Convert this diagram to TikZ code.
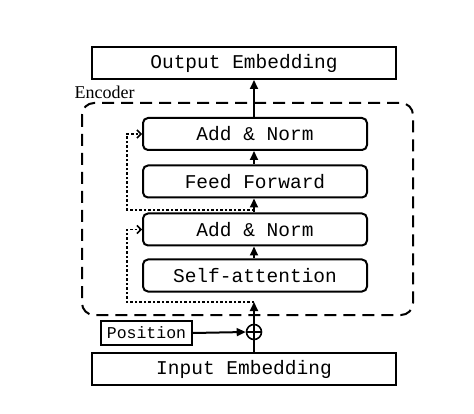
\documentclass[tikz,border=0pt]{standalone}
\usepackage{fontspec}
\setmainfont{Liberation Serif}
\setmonofont{Liberation Mono}
\usetikzlibrary{arrows.meta,positioning,calc}

\tikzset{
  embbox/.style={draw, rectangle, line width=2pt, minimum width=304pt, minimum height=32pt, inner sep=0pt},
  layerbox/.style={draw, rectangle, rounded corners=5pt, line width=2pt, minimum width=224pt, minimum height=32pt, inner sep=0pt},
  flow/.style={-{Triangle[length=9pt,width=8pt]}, line width=2pt},
  skip/.style={-{Straight Barb[length=4pt,width=8pt]}, line width=1.5pt, dash pattern=on 2.5pt off 2pt}
}

\begin{document}
\begin{tikzpicture}[x=1pt, y=-1pt, font=\ttfamily\fontsize{19.5}{22}\selectfont]
    \useasboundingbox (0,0) rectangle (474,414);

    % Embeddings
    \node[embbox] (output) at (244,63) {Output Embedding};
    \node[embbox] (input) at (244,369) {Input Embedding};

    % Encoder frame
    \draw[line width=2pt, rounded corners=12pt, dash pattern=on 12pt off 7pt] (82,103) rectangle (413,315);
    \node[anchor=base west, font=\rmfamily\fontsize{18}{20}\selectfont] (enclabel) at (71,99) {Encoder};

    % Encoder layers
    \node[layerbox] (addnorm1) at (255,134) {Add \& Norm};
    \node[layerbox] (feed) at (255,181.5) {Feed Forward};
    \node[layerbox] (addnorm2) at (255,229.5) {Add \& Norm};
    \node[layerbox] (selfatt) at (255,275.5) {Self-attention};

    % Positional encoding
    \node[draw, rectangle, line width=2pt, minimum width=91pt, minimum height=24pt, inner sep=0pt,
          font=\ttfamily\fontsize{16.5}{19}\selectfont] (position) at (146.5,333) {Position};
    \node[draw, circle, line width=1.6pt, minimum size=15pt, inner sep=0pt] (plus) at (254,332) {};
    \draw[line width=1.6pt] (plus.north) -- (plus.south) (plus.west) -- (plus.east);

    % Arrows
    \coordinate (res1) at (254,302);
    \coordinate (res2) at (254,210);
    \draw[line width=2pt] (input.north -| plus) -- (plus.south);
    \draw[flow] (position.east) -- (plus.west);
    \draw[flow] (plus.north) -- (res1);
    \draw[flow] (selfatt.north -| plus) -- (addnorm2.south -| plus);
    \draw[flow] (addnorm2.north -| plus) -- (feed.south -| plus);
    \draw[flow] (feed.north -| plus) -- (addnorm1.south -| plus);
    \draw[flow] (addnorm1.north -| plus) -- (output.south -| plus);

    % Residual connections
    \draw[skip] (res1) -- (127,302) |- (addnorm2.west);
    \draw[skip] (res2) -- (127,210) |- (addnorm1.west);
\end{tikzpicture}
\end{document}
